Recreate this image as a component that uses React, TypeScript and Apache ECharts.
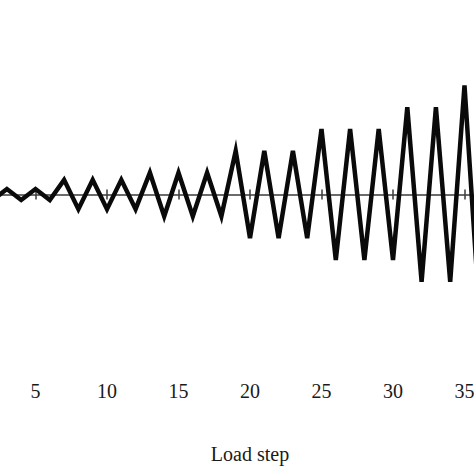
import { useEffect, useRef } from 'react';
import * as echarts from 'echarts';

// load protocol (one vertex per load step)
const steps = [
  0, 1, 2, 3, 4, 5, 6, 7, 8, 9, 10, 11, 12, 13, 14, 15, 16, 17, 18,
  19, 20, 21, 22, 23, 24, 25, 26, 27, 28, 29, 30, 31, 32, 33, 34, 35, 36,
];
const amplitude = [
  0, 0.25, -0.25, 0.25, -0.25, 0.25, -0.25, 0.67, -0.67, 0.67, -0.67, 0.67, -0.67,
  1, -1, 1, -1, 1, -1, 2, -2, 2, -2, 2, -2, 3, -3, 3, -3, 3, -3,
  4, -4, 4, -4, 5, -5,
];
const tickValues = [5, 10, 15, 20, 25, 30, 35];

const FONT = '"Liberation Serif", "Times New Roman", serif';
const AXIS_COLOR = '#3a3a3a';

export default function App() {
  const chartRef = useRef<HTMLDivElement>(null);

  useEffect(() => {
    if (!chartRef.current) return;
    const chart = echarts.init(chartRef.current, undefined, { renderer: 'svg' });

    const zeroAxis = (inside: boolean) => ({
      type: 'value' as const,
      min: 0,
      max: 40,
      interval: 5,
      position: 'bottom' as const,
      axisLine: {
        show: !inside,
        onZero: true,
        onZeroAxisIndex: 0,
        lineStyle: { color: AXIS_COLOR, width: 1.5 },
      },
      axisTick: {
        show: true,
        inside,
        length: 5,
        lineStyle: { color: AXIS_COLOR, width: 1.5 },
      },
      axisLabel: { show: false },
      splitLine: { show: false },
    });

    chart.setOption({
      animation: false,
      backgroundColor: '#ffffff',
      grid: { left: 0, right: 0, top: 20, bottom: 105 },
      xAxis: [
        {
          type: 'value',
          min: 0,
          max: 40,
          interval: 5,
          position: 'bottom',
          name: 'Load step',
          nameLocation: 'middle',
          nameGap: 75,
          nameTextStyle: { fontFamily: FONT, fontSize: 20, color: '#1a1a1a' },
          axisLine: { show: false, onZero: false },
          axisTick: { show: false },
          axisLabel: {
            margin: 12,
            fontFamily: FONT,
            fontSize: 20,
            color: '#1a1a1a',
            formatter: (v: number) => (tickValues.includes(v) ? String(v) : ''),
          },
          splitLine: { show: false },
        },
        zeroAxis(false),
        zeroAxis(true),
      ],
      yAxis: {
        type: 'value',
        min: -8,
        max: 8,
        show: false,
      },
      series: [
        {
          type: 'line',
          xAxisIndex: 1,
          data: steps.map((s, i) => [s, amplitude[i]]),
          showSymbol: false,
          symbol: 'none',
          lineStyle: { color: '#0a0a0a', width: 4.5, join: 'miter', miterLimit: 6 },
          z: 5,
        },
      ],
    });

    return () => {
      chart.dispose();
    };
  }, []);

  // the plot is wider than the window: x = 0 sits left of the frame, as in the cropped original
  return (
    <div
      style={{
        position: 'fixed',
        left: 0,
        top: 0,
        width: 474,
        height: 474,
        overflow: 'hidden',
        background: '#ffffff',
      }}
    >
      <div
        ref={chartRef}
        style={{ position: 'absolute', left: -39, top: 0, width: 578, height: 474 }}
      />
    </div>
  );
}
